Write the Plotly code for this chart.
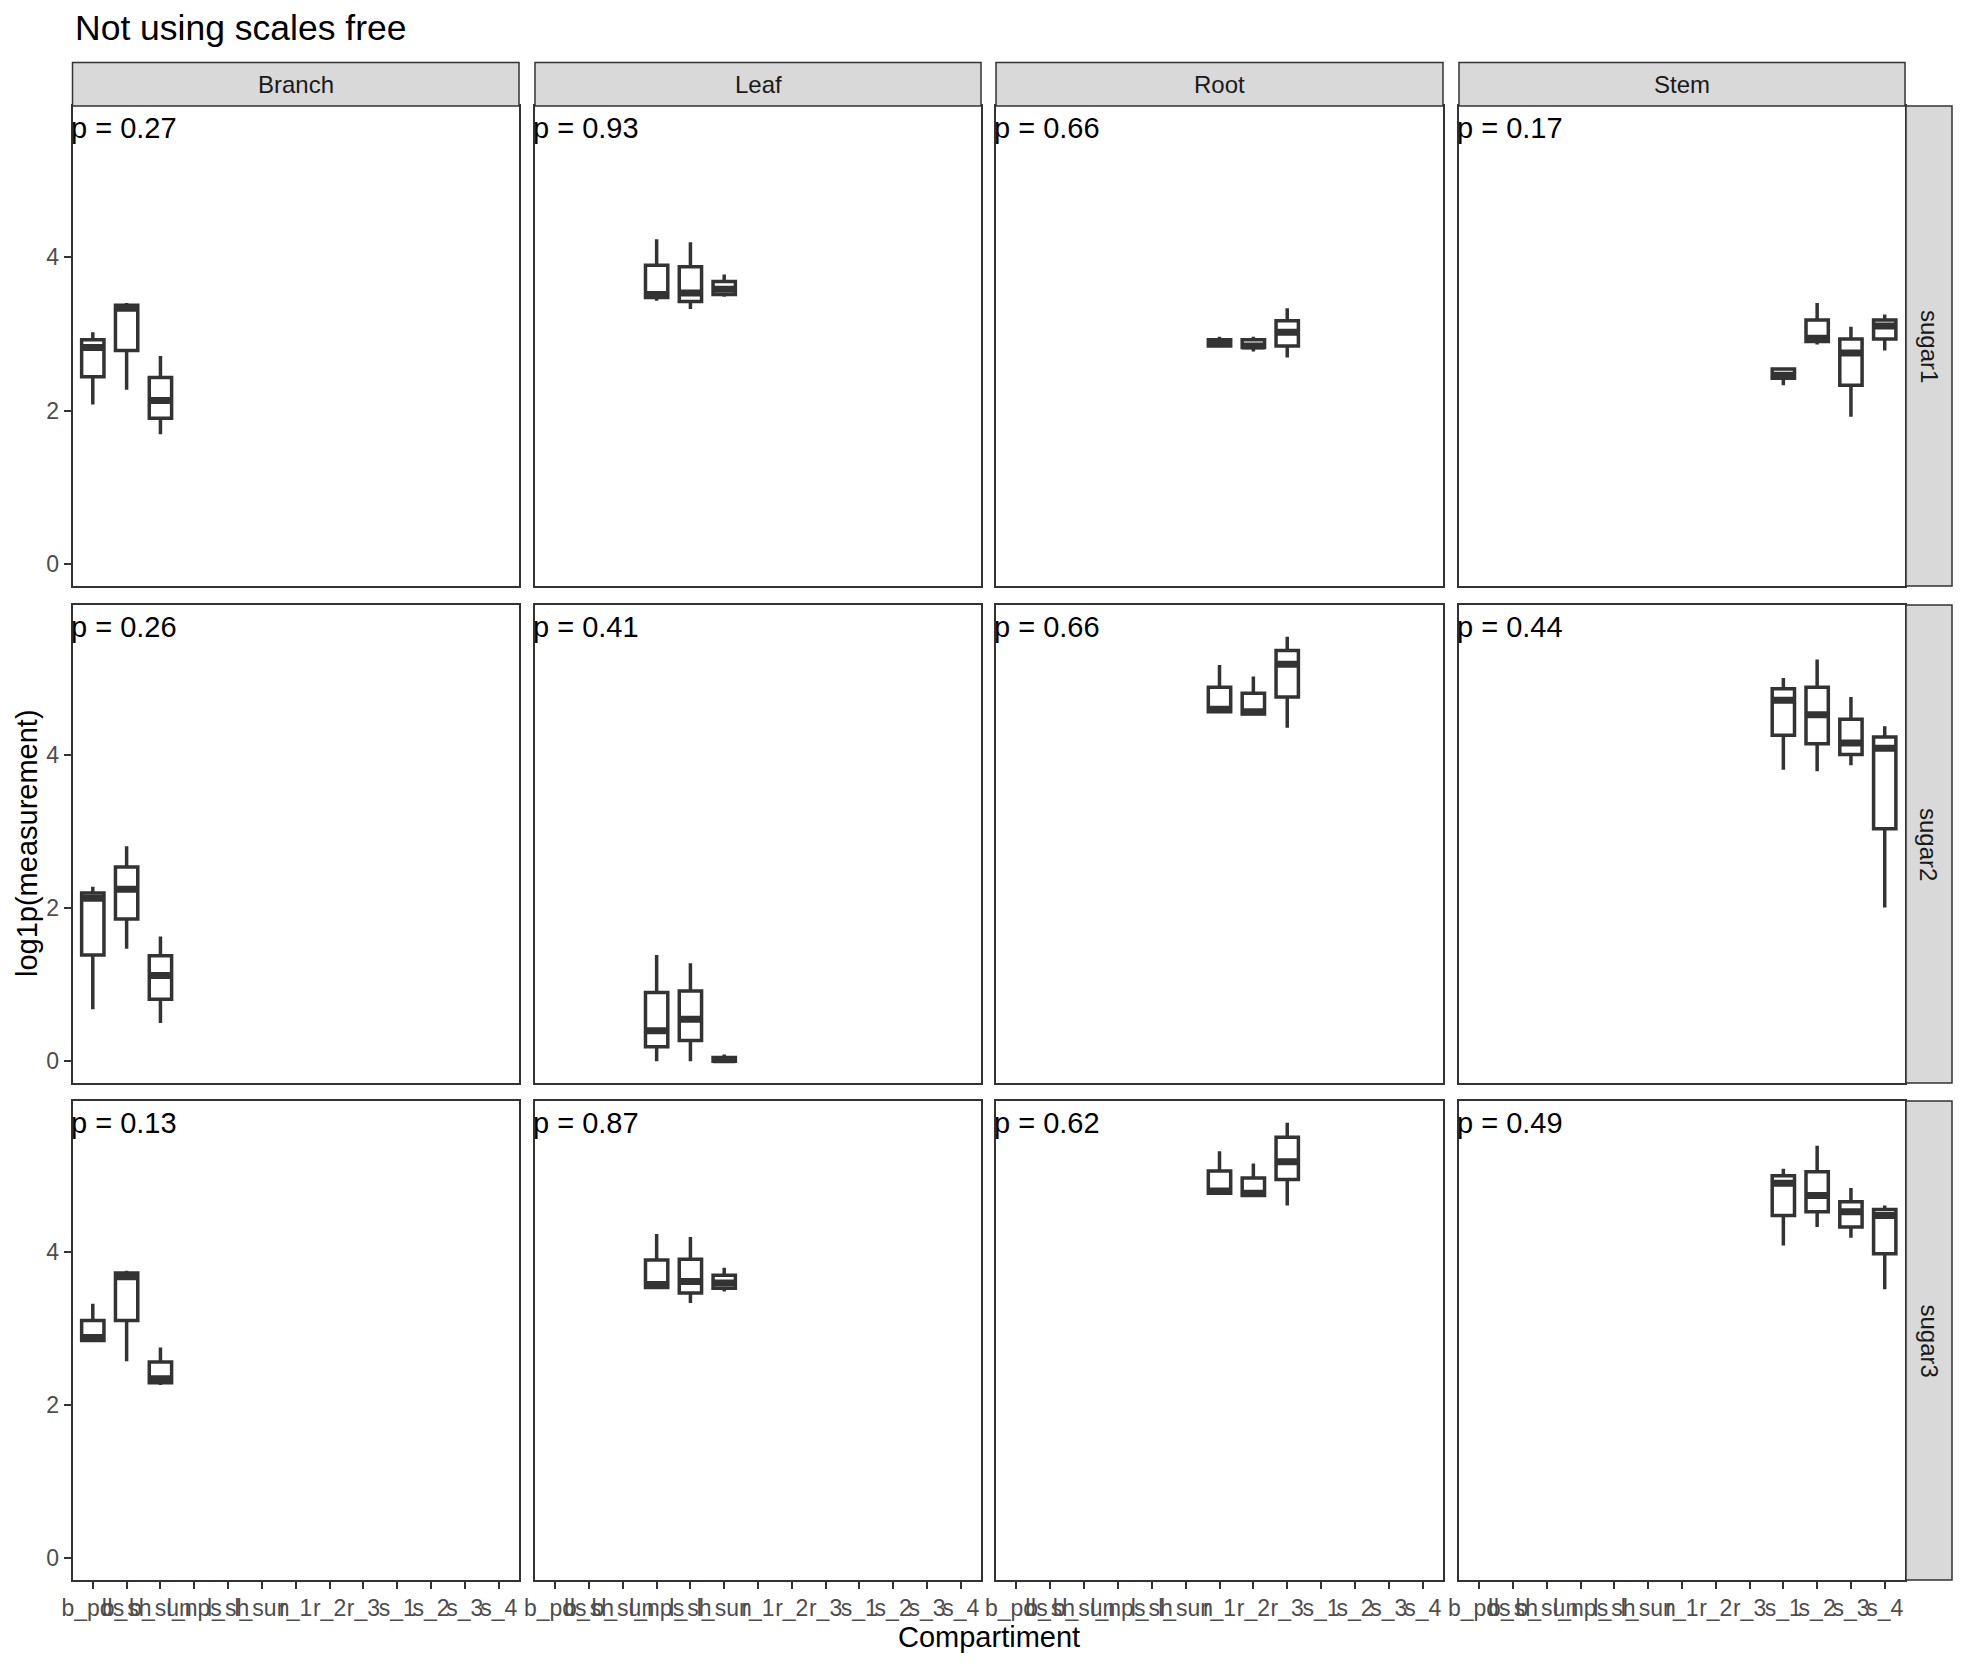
import plotly.graph_objects as go

compartments = ["Branch", "Leaf", "Root", "Stem"]
sugars = ["sugar1", "sugar2", "sugar3"]
groups = ["b_pds", "b_sh", "b_sun", "l_nps", "l_sh", "l_sun",
          "r_1", "r_2", "r_3", "s_1", "s_2", "s_3", "s_4"]
group_compartment = ["Branch"] * 3 + ["Leaf"] * 3 + ["Root"] * 3 + ["Stem"] * 4

# box stats, one value per group: lower whisker, q1, median, q3, upper whisker
sugar1_lower = [2.08, 2.27, 1.69, 3.43, 3.32, 3.48, 2.83, 2.77, 2.69, 2.33, 2.86, 1.92, 2.78]
sugar1_q1 = [2.44, 2.78, 1.90, 3.47, 3.42, 3.51, 2.84, 2.82, 2.84, 2.42, 2.90, 2.33, 2.93]
sugar1_median = [2.82, 3.33, 2.13, 3.51, 3.53, 3.58, 2.89, 2.84, 3.02, 2.46, 2.94, 2.75, 3.10]
sugar1_q3 = [2.92, 3.37, 2.43, 3.89, 3.87, 3.68, 2.92, 2.92, 3.17, 2.54, 3.18, 2.93, 3.18]
sugar1_upper = [3.02, 3.40, 2.71, 4.23, 4.19, 3.77, 2.96, 2.96, 3.33, 2.55, 3.40, 3.09, 3.25]

sugar2_lower = [0.68, 1.47, 0.50, 0.00, 0.00, 0.00, 4.57, 4.52, 4.36, 3.81, 3.79, 3.87, 2.01]
sugar2_q1 = [1.39, 1.86, 0.81, 0.19, 0.27, 0.00, 4.57, 4.54, 4.76, 4.26, 4.15, 4.01, 3.04]
sugar2_median = [2.13, 2.25, 1.12, 0.40, 0.55, 0.02, 4.60, 4.57, 5.19, 4.72, 4.53, 4.16, 4.09]
sugar2_q3 = [2.20, 2.54, 1.38, 0.90, 0.92, 0.05, 4.89, 4.81, 5.37, 4.87, 4.89, 4.47, 4.24]
sugar2_upper = [2.28, 2.81, 1.63, 1.39, 1.28, 0.09, 5.18, 5.03, 5.55, 5.01, 5.25, 4.76, 4.38]

sugar3_lower = [2.83, 2.57, 2.26, 3.53, 3.33, 3.48, 4.74, 4.71, 4.60, 4.08, 4.32, 4.18, 3.51]
sugar3_q1 = [2.84, 3.10, 2.29, 3.53, 3.46, 3.52, 4.76, 4.73, 4.94, 4.47, 4.52, 4.32, 3.97]
sugar3_median = [2.88, 3.67, 2.34, 3.57, 3.61, 3.59, 4.79, 4.76, 5.17, 4.89, 4.73, 4.52, 4.47]
sugar3_q3 = [3.10, 3.72, 2.56, 3.89, 3.90, 3.69, 5.05, 4.96, 5.49, 4.99, 5.04, 4.65, 4.55]
sugar3_upper = [3.32, 3.75, 2.75, 4.23, 4.19, 3.79, 5.31, 5.15, 5.68, 5.08, 5.38, 4.83, 4.60]

# p values per compartment (Branch, Leaf, Root, Stem)
p_sugar1 = [0.27, 0.93, 0.66, 0.17]
p_sugar2 = [0.26, 0.41, 0.66, 0.44]
p_sugar3 = [0.13, 0.87, 0.62, 0.49]

stats = {
    "sugar1": (sugar1_lower, sugar1_q1, sugar1_median, sugar1_q3, sugar1_upper),
    "sugar2": (sugar2_lower, sugar2_q1, sugar2_median, sugar2_q3, sugar2_upper),
    "sugar3": (sugar3_lower, sugar3_q1, sugar3_median, sugar3_q3, sugar3_upper),
}
pvals = {"sugar1": p_sugar1, "sugar2": p_sugar2, "sugar3": p_sugar3}

# page geometry (pixels on the page); the html body adds an 8px margin
W, H = 1964, 1666
OFF = 8
col_px = [(72.5, 519), (535, 981), (996, 1443), (1459, 1905)]
row_px = [(106, 586), (605, 1083), (1101, 1580)]
strip_top = 62.5
strip_right = (1906, 1952)


def px(v):
    return (v - OFF) / W


def py(v):
    return 1 - (v - OFF) / H


FONT = "Liberation Sans, Arial, Helvetica, sans-serif"
DARK = "#333333"

all_low = [v for s in sugars for v in stats[s][0]]
all_up = [v for s in sugars for v in stats[s][4]]
ymin, ymax = min(all_low), max(all_up)
pad = 0.05 * (ymax - ymin)
yrange = [ymin - pad, ymax + pad]

fig = go.Figure()
layout = {}
annotations = []
shapes = []

for r, sugar in enumerate(sugars):
    low, q1, med, q3, up = stats[sugar]
    for c, comp in enumerate(compartments):
        k = r * 4 + c + 1
        xa = "x" if k == 1 else f"x{k}"
        ya = "y" if k == 1 else f"y{k}"
        idx = [i for i, g in enumerate(group_compartment) if g == comp]
        xs = [groups[i] for i in idx]

        fig.add_trace(go.Box(
            x=xs,
            lowerfence=[low[i] for i in idx], q1=[q1[i] for i in idx],
            median=[med[i] for i in idx], q3=[q3[i] for i in idx],
            upperfence=[up[i] for i in idx],
            xaxis=xa, yaxis=ya, fillcolor="white",
            line=dict(color=DARK, width=3.5), whiskerwidth=0,
            showlegend=False, hoverinfo="skip"))
        # thicker median bar, like ggplot's fatten
        mm = [med[i] for i in idx]
        fig.add_trace(go.Box(
            x=xs, lowerfence=mm, q1=mm, median=mm, q3=mm, upperfence=mm,
            xaxis=xa, yaxis=ya, fillcolor="rgba(0,0,0,0)",
            line=dict(color=DARK, width=7), whiskerwidth=0,
            showlegend=False, hoverinfo="skip"))

        x0, x1 = col_px[c]
        y0, y1 = row_px[r]
        bottom = r == len(sugars) - 1
        left = c == 0
        layout["xaxis" if k == 1 else f"xaxis{k}"] = dict(
            domain=[px(x0), px(x1)], anchor=ya, automargin=False,
            type="category", categoryorder="array", categoryarray=groups,
            range=[-0.6, len(groups) - 0.4],
            tickmode="array", tickvals=groups, ticktext=groups,
            showticklabels=bottom, ticks="outside" if bottom else "",
            ticklen=7, tickwidth=1.5, tickcolor=DARK, tickangle=0,
            tickfont=dict(family=FONT, size=23, color="#4D4D4D"),
            showline=True, mirror=True, linecolor=DARK, linewidth=1.5,
            showgrid=False, zeroline=False, fixedrange=True)
        layout["yaxis" if k == 1 else f"yaxis{k}"] = dict(
            domain=[py(y1), py(y0)], anchor=xa, automargin=False,
            range=yrange, tickvals=[0, 2, 4],
            showticklabels=left, ticks="outside" if left else "",
            ticklen=7, tickwidth=1.5, tickcolor=DARK,
            tickfont=dict(family=FONT, size=23, color="#4D4D4D"),
            showline=True, mirror=True, linecolor=DARK, linewidth=1.5,
            showgrid=False, zeroline=False, fixedrange=True)

        annotations.append(dict(
            text=f"p = {pvals[sugar][c]:.2f}", xref=f"{xa} domain", x=0,
            xanchor="left", xshift=-4, yref=ya, y=ymax, yanchor="middle",
            showarrow=False, font=dict(family=FONT, size=29, color="black")))

# column strips
for c, comp in enumerate(compartments):
    x0, x1 = col_px[c]
    shapes.append(dict(type="rect", xref="paper", yref="paper",
                       x0=px(x0), x1=px(x1), y0=py(row_px[0][0]), y1=py(strip_top),
                       fillcolor="#D9D9D9", line=dict(color=DARK, width=1.5)))
    annotations.append(dict(text=comp, xref="paper", yref="paper",
                            x=px((x0 + x1) / 2), y=py((strip_top + row_px[0][0]) / 2),
                            xanchor="center", yanchor="middle", showarrow=False,
                            font=dict(family=FONT, size=24, color="#1A1A1A")))

# row strips
for r, sugar in enumerate(sugars):
    y0, y1 = row_px[r]
    shapes.append(dict(type="rect", xref="paper", yref="paper",
                       x0=px(strip_right[0]), x1=px(strip_right[1]), y0=py(y1), y1=py(y0),
                       fillcolor="#D9D9D9", line=dict(color=DARK, width=1.5)))
    annotations.append(dict(text=sugar, xref="paper", yref="paper",
                            x=px(sum(strip_right) / 2), y=py((y0 + y1) / 2),
                            xanchor="center", yanchor="middle",
                            textangle=90, showarrow=False,
                            font=dict(family=FONT, size=24, color="#1A1A1A")))

# titles
annotations.append(dict(text="Not using scales free", xref="paper", yref="paper",
                        x=px(72.5), y=py(28), xanchor="left", yanchor="middle",
                        showarrow=False, font=dict(family=FONT, size=35.5, color="black")))
annotations.append(dict(text="Compartiment", xref="paper", yref="paper",
                        x=px((col_px[0][0] + col_px[-1][1]) / 2), y=py(1637),
                        xanchor="center", yanchor="middle", showarrow=False,
                        font=dict(family=FONT, size=29, color="black")))
annotations.append(dict(text="log1p(measurement)", xref="paper", yref="paper",
                        x=px(27), y=py((row_px[0][0] + row_px[-1][1]) / 2),
                        xanchor="center", yanchor="middle",
                        textangle=-90, showarrow=False,
                        font=dict(family=FONT, size=29, color="black")))

fig.update_layout(
    template="none",
    width=W, height=H,
    margin=dict(l=0, r=0, t=0, b=0, autoexpand=False),
    paper_bgcolor="white", plot_bgcolor="white",
    boxmode="overlay", boxgap=0.34, boxgroupgap=0,
    annotations=annotations, shapes=shapes,
    font=dict(family=FONT),
    **layout)

fig.write_html("out.html")
